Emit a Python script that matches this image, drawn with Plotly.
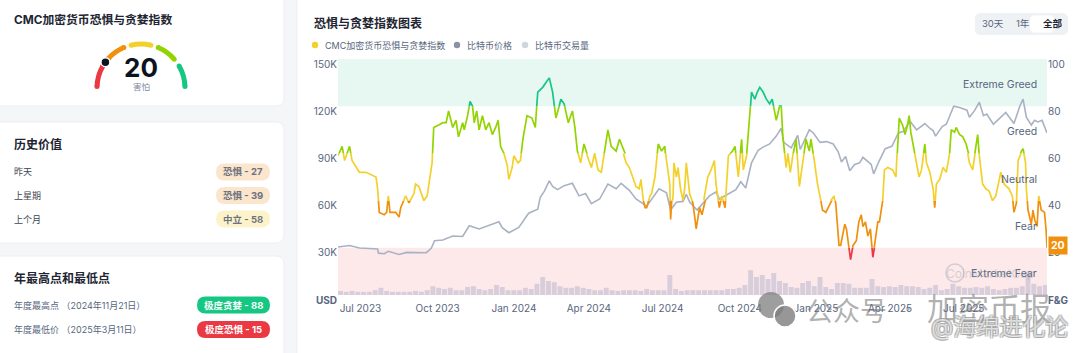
import math
import pandas as pd
import plotly.graph_objects as go

W, H = 1080, 353
FONT = "Inter, 'Noto Sans CJK SC', sans-serif"
DARK = "#222531"
GRAY = "#58667e"

# ---------------- data ----------------
fg_dates = [
    "2023-06-29", "2023-07-04", "2023-07-07", "2023-07-13", "2023-07-16", "2023-07-25",
    "2023-08-02", "2023-08-08", "2023-08-14", "2023-08-16", "2023-08-18", "2023-08-24", "2023-08-27", "2023-08-29", "2023-08-31",
    "2023-09-07", "2023-09-11", "2023-09-13", "2023-09-19", "2023-09-23", "2023-09-29",
    "2023-10-01", "2023-10-05", "2023-10-09", "2023-10-11", "2023-10-15", "2023-10-17", "2023-10-21", "2023-10-23", "2023-10-29",
    "2023-11-03", "2023-11-07", "2023-11-10", "2023-11-15", "2023-11-19", "2023-11-22", "2023-11-27", "2023-11-29",
    "2023-12-03", "2023-12-06", "2023-12-09", "2023-12-11", "2023-12-14", "2023-12-17", "2023-12-21", "2023-12-25", "2023-12-29",
    "2024-01-02", "2024-01-06", "2024-01-09", "2024-01-12", "2024-01-16", "2024-01-20", "2024-01-22", "2024-01-26", "2024-01-28",
    "2024-02-02", "2024-02-05", "2024-02-08", "2024-02-13", "2024-02-19", "2024-02-23", "2024-02-26",
    "2024-03-03", "2024-03-07", "2024-03-11", "2024-03-15", "2024-03-17", "2024-03-19", "2024-03-23", "2024-03-25", "2024-03-29",
    "2024-04-03", "2024-04-08", "2024-04-11", "2024-04-14", "2024-04-18", "2024-04-22", "2024-04-26",
    "2024-05-01", "2024-05-05", "2024-05-09", "2024-05-13", "2024-05-17", "2024-05-21", "2024-05-25", "2024-05-31",
    "2024-06-04", "2024-06-08", "2024-06-12", "2024-06-16", "2024-06-20", "2024-06-24", "2024-06-28", "2024-06-30",
    "2024-07-03", "2024-07-05", "2024-07-07", "2024-07-11", "2024-07-13", "2024-07-17", "2024-07-21", "2024-07-25", "2024-07-29", "2024-07-31",
    "2024-08-04", "2024-08-05", "2024-08-08", "2024-08-09", "2024-08-12", "2024-08-14", "2024-08-17", "2024-08-20", "2024-08-22", "2024-08-24", "2024-08-28",
    "2024-09-01", "2024-09-05", "2024-09-09", "2024-09-12", "2024-09-15", "2024-09-19", "2024-09-23", "2024-09-27", "2024-09-29",
    "2024-10-03", "2024-10-06", "2024-10-10", "2024-10-14", "2024-10-19", "2024-10-22", "2024-10-26", "2024-10-30",
    "2024-11-01", "2024-11-05", "2024-11-08", "2024-11-11", "2024-11-15", "2024-11-18", "2024-11-21", "2024-11-25", "2024-11-29",
    "2024-12-03", "2024-12-06", "2024-12-09", "2024-12-11", "2024-12-15", "2024-12-17", "2024-12-19", "2024-12-21", "2024-12-23", "2024-12-25", "2024-12-28", "2024-12-31",
    "2025-01-04", "2025-01-08", "2025-01-12", "2025-01-16", "2025-01-20", "2025-01-22", "2025-01-26", "2025-01-30",
    "2025-02-03", "2025-02-05", "2025-02-09", "2025-02-15", "2025-02-19", "2025-02-21", "2025-02-23", "2025-02-25", "2025-02-27",
    "2025-03-04", "2025-03-06", "2025-03-11", "2025-03-14", "2025-03-18", "2025-03-21", "2025-03-24", "2025-03-26", "2025-03-29",
    "2025-04-01", "2025-04-04", "2025-04-07", "2025-04-10", "2025-04-13", "2025-04-15", "2025-04-17", "2025-04-19", "2025-04-21", "2025-04-25",
    "2025-05-01", "2025-05-05", "2025-05-07", "2025-05-09", "2025-05-13", "2025-05-16", "2025-05-19", "2025-05-21", "2025-05-23", "2025-05-27", "2025-05-29",
    "2025-06-02", "2025-06-05", "2025-06-09", "2025-06-11", "2025-06-15", "2025-06-19", "2025-06-21", "2025-06-23", "2025-06-27",
    "2025-07-01", "2025-07-05", "2025-07-09", "2025-07-11", "2025-07-15", "2025-07-17", "2025-07-21", "2025-07-25", "2025-07-29",
    "2025-08-02", "2025-08-06", "2025-08-09", "2025-08-12", "2025-08-14", "2025-08-18", "2025-08-22", "2025-08-26", "2025-08-30",
    "2025-09-03", "2025-09-09", "2025-09-13", "2025-09-19", "2025-09-23", "2025-09-25", "2025-09-28", "2025-09-30",
    "2025-10-04", "2025-10-06", "2025-10-09", "2025-10-10", "2025-10-12", "2025-10-16", "2025-10-18", "2025-10-20", "2025-10-23", "2025-10-25", "2025-10-28",
    "2025-11-01", "2025-11-03", "2025-11-04",
]
fg_values = [
    59, 63, 57, 63, 57, 52,
    52, 51, 50, 45, 35, 34, 35, 42, 35,
    35, 33, 37, 42, 39, 43,
    47, 46, 42, 40, 42, 47, 56, 71, 72,
    73, 73, 78, 71, 74, 67, 73, 70,
    76, 82, 80, 73, 78, 70, 76, 70, 73,
    68, 71, 74, 63, 60, 55, 49, 54, 59,
    56, 57, 66, 76, 75, 71, 86,
    88, 90, 92, 86, 81, 75, 80, 83, 81,
    73, 78, 71, 61, 56, 64, 59,
    54, 60, 53, 52, 61, 70, 63, 61,
    66, 61, 56, 54, 50, 46, 45, 49,
    40, 37, 37, 42, 43, 50, 64, 61, 63, 57,
    47, 32, 42, 56, 50, 54, 45, 40, 45, 56, 43,
    39, 28, 37, 34, 42, 50, 53, 57, 47,
    37, 42, 37, 59, 61, 63, 50, 66,
    53, 59, 71, 86, 83, 86, 88, 86, 83,
    81, 83, 78, 74, 80, 80, 67, 61, 54, 60, 52, 59,
    66, 46, 57, 66, 61, 66, 57, 47,
    40, 36, 35, 40, 42, 39, 30, 21, 21,
    30, 28, 15, 21, 23, 31, 34, 29, 31,
    25, 28, 16, 23, 31, 31, 35, 40, 53, 54,
    53, 50, 66, 75, 72, 68, 72, 76, 69, 61, 57,
    50, 53, 64, 56, 52, 45, 37, 47, 49,
    54, 52, 60, 70, 69, 71, 68, 67, 64,
    56, 53, 61, 68, 59, 47, 45, 44, 40,
    42, 52, 47, 45, 42, 35, 39, 57,
    61, 62, 56, 45, 36, 30, 36, 32, 29, 42, 36,
    35, 27, 20,
]

btc_dates = [
    "2023-06-29", "2023-07-13", "2023-07-25", "2023-08-08", "2023-08-16", "2023-08-17", "2023-08-24", "2023-08-29",
    "2023-09-11", "2023-09-20", "2023-09-29", "2023-10-14", "2023-10-20", "2023-10-24", "2023-11-03", "2023-11-15",
    "2023-11-27", "2023-12-05", "2023-12-17", "2024-01-02", "2024-01-10", "2024-01-14", "2024-01-22", "2024-02-03",
    "2024-02-15", "2024-02-26", "2024-02-29", "2024-03-05", "2024-03-11", "2024-03-15", "2024-03-21", "2024-03-29",
    "2024-04-08", "2024-04-16", "2024-04-24", "2024-05-01", "2024-05-11", "2024-05-21", "2024-05-31", "2024-06-06",
    "2024-06-16", "2024-06-24", "2024-07-07", "2024-07-22", "2024-07-31", "2024-08-05", "2024-08-12", "2024-08-20",
    "2024-08-24", "2024-08-28", "2024-09-06", "2024-09-21", "2024-09-29", "2024-10-03", "2024-10-23", "2024-10-29",
    "2024-11-04", "2024-11-11", "2024-11-19", "2024-11-25", "2024-12-03", "2024-12-11", "2024-12-17", "2024-12-20",
    "2024-12-29", "2025-01-06", "2025-01-09", "2025-01-20", "2025-01-25", "2025-02-02", "2025-02-10", "2025-02-18",
    "2025-02-24", "2025-02-28", "2025-03-05", "2025-03-10", "2025-03-16", "2025-03-22", "2025-03-26", "2025-04-05",
    "2025-04-08", "2025-04-14", "2025-04-22", "2025-04-30", "2025-05-08", "2025-05-14", "2025-05-22", "2025-05-30",
    "2025-06-09", "2025-06-15", "2025-06-19", "2025-06-22", "2025-06-30", "2025-07-05", "2025-07-14", "2025-07-22",
    "2025-07-30", "2025-08-02", "2025-08-08", "2025-08-14", "2025-08-19", "2025-08-23", "2025-08-31", "2025-09-05",
    "2025-09-15", "2025-09-25", "2025-10-02", "2025-10-06", "2025-10-10", "2025-10-16", "2025-10-20", "2025-10-24",
    "2025-10-29", "2025-11-04",
]
btc_price_k = [
    30.5, 31.5, 29.9, 29.5, 29.2, 26.6, 26.2, 27.8,
    25.8, 27.1, 27.0, 26.9, 29.7, 34.5, 35.0, 37.5,
    37.2, 44.0, 42.0, 45.0, 46.5, 42.8, 39.6, 43.0,
    52.0, 54.5, 62.0, 66.0, 72.5, 69.0, 67.0, 69.5,
    71.0, 63.0, 64.5, 58.0, 61.0, 70.5, 67.5, 71.0,
    66.5, 61.0, 56.5, 67.5, 65.0, 54.0, 59.0, 59.5,
    64.0, 59.0, 54.0, 63.0, 65.5, 61.0, 67.0, 72.0,
    68.0, 84.0, 92.0, 94.0, 96.0, 101.0, 106.0, 97.0,
    93.5, 101.5, 92.5, 105.0, 103.0, 97.0, 97.5, 96.0,
    91.0, 84.5, 88.0, 79.0, 83.0, 84.0, 87.5, 83.0,
    77.0, 84.5, 93.0, 94.5, 103.0, 104.0, 110.5, 105.0,
    109.0, 106.0, 104.5, 101.0, 107.0, 108.5, 120.0, 119.0,
    117.5, 113.0, 117.0, 122.5, 114.0, 115.0, 108.5, 111.0,
    116.0, 109.0, 120.0, 124.5, 113.0, 108.0, 111.0, 110.0,
    111.0, 103.0,
]

vol_first_week = "2023-07-02"
vol_billion = [
    10, 8, 10, 8, 8, 8, 12, 18, 10, 8, 8, 8, 8, 10, 8, 12, 22, 18, 15, 18, 12, 12,
    20, 22, 15, 12, 15, 25, 20, 12, 12, 12, 18, 15, 28, 45, 35, 32, 22, 18, 18, 22,
    18, 15, 12, 12, 18, 12, 10, 12, 12, 12, 10, 15, 12, 12, 12, 50, 15, 10, 12, 12,
    12, 12, 12, 12, 12, 15, 15, 18, 25, 62, 45, 50, 40, 55, 35, 30, 20, 18, 30, 35,
    22, 45, 20, 15, 30, 30, 28, 18, 18, 18, 40, 22, 20, 22, 20, 25, 22, 22, 20, 15,
    18, 25, 12, 15, 28, 22, 18, 18, 20, 18, 22, 15, 12, 15, 18, 18, 22, 55, 28, 22,
    25,
]

band_edges = [0, 20, 40, 60, 80, 100]
band_colors = ["#ea3943", "#f0900c", "#f3d12c", "#93d400", "#16c784"]
band_names = ["Extreme Fear", "Fear", "Neutral", "Greed", "Extreme Greed"]
band_cn = ["极度恐惧", "恐惧", "中立", "贪婪", "极度贪婪"]

x_tick_dates = ["2023-07-01", "2023-10-01", "2024-01-01", "2024-04-01", "2024-07-01",
                "2024-10-01", "2025-01-01", "2025-04-01", "2025-07-01"]
x_tick_text = ["Jul 2023", "Oct 2023", "Jan 2024", "Apr 2024", "Jul 2024",
               "Oct 2024", "Jan 2025", "Apr 2025", "Jul 2025"]
btc_tick_vals = [0, 30000, 60000, 90000, 120000, 150000]
btc_tick_text = ["<b>USD</b>", "30K", "60K", "90K", "120K", "150K"]
fg_tick_vals = [0, 20, 40, 60, 80, 100]
fg_tick_text = ["<b>F&G</b>", "20", "40", "60", "80", "100"]

fg_now = 20
fg_now_label = "害怕"
hist_labels = ["昨天", "上星期", "上个月"]
hist_values = [27, 39, 58]
year_labels = ["年度最高点 （2024年11月21日）", "年度最低价 （2025年3月11日）"]
year_values = [88, 15]

assert len(fg_dates) == len(fg_values)
assert len(btc_dates) == len(btc_price_k)


def band_of(v):
    return min(int(v // 20), 4)


# ---------------- helpers ----------------
def px(x):
    return x / W


def py(y):
    return 1 - y / H


def P(x, y):
    return f"{px(x):.5f},{py(y):.5f}"


def rrect(x0, y0, x1, y1, r, fill, line=None):
    d = (f"M {P(x0 + r, y0)} L {P(x1 - r, y0)} Q {P(x1, y0)} {P(x1, y0 + r)} "
         f"L {P(x1, y1 - r)} Q {P(x1, y1)} {P(x1 - r, y1)} L {P(x0 + r, y1)} "
         f"Q {P(x0, y1)} {P(x0, y1 - r)} L {P(x0, y0 + r)} Q {P(x0, y0)} {P(x0 + r, y0)} Z")
    return dict(type="path", path=d, xref="paper", yref="paper", fillcolor=fill,
                line=dict(width=1 if line else 0, color=line or "rgba(0,0,0,0)"), layer="below")


def circle(cx, cy, r, fill, lw=0, lc="white", layer="above"):
    return dict(type="circle", xref="paper", yref="paper", x0=px(cx - r), x1=px(cx + r),
                y0=py(cy + r), y1=py(cy - r), fillcolor=fill,
                line=dict(width=lw, color=lc if lw else "rgba(0,0,0,0)"), layer=layer)


def arc(cx, cy, r, a0, a1, color, width):
    t0, t1 = math.radians(a0), math.radians(a1)
    k = 4 / 3 * math.tan((t1 - t0) / 4)
    p0 = (cx + r * math.cos(t0), cy - r * math.sin(t0))
    p3 = (cx + r * math.cos(t1), cy - r * math.sin(t1))
    p1 = (p0[0] - k * r * math.sin(t0), p0[1] - k * r * math.cos(t0))
    p2 = (p3[0] + k * r * math.sin(t1), p3[1] + k * r * math.cos(t1))
    d = f"M {P(*p0)} C {P(*p1)} {P(*p2)} {P(*p3)}"
    return [dict(type="path", path=d, xref="paper", yref="paper", line=dict(color=color, width=width)),
            circle(p0[0], p0[1], width / 2, color), circle(p3[0], p3[1], width / 2, color)]


annotations = []


def T(x, y, text, size=11, color=GRAY, bold=False, xa="left", ya="middle", **kw):
    annotations.append(dict(x=px(x), y=py(y), xref="paper", yref="paper",
                            text=f"<b>{text}</b>" if bold else text, showarrow=False,
                            xanchor=xa, yanchor=ya, borderpad=0,
                            font=dict(size=size, color=color, family=FONT, **kw)))


shapes = []
# ---------------- cards ----------------
shapes.append(rrect(-10, -10, 284, 106, 8, "white", "#eceff3"))
shapes.append(rrect(-10, 122, 284, 243, 8, "white", "#eceff3"))
shapes.append(rrect(-10, 256, 284, 372, 8, "white", "#eceff3"))
shapes.append(rrect(297, -10, 1092, 372, 8, "white", "#eceff3"))

# ---------------- gauge ----------------
GX, GY, GR = 141, 88, 44
gauge_spans = [(150, 178), (113, 138), (77, 103), (41, 67), (2, 30)]
for (a0, a1), col in zip(gauge_spans, band_colors):
    shapes += arc(GX, GY, GR, a0, a1, col, 5)
ang = math.radians(180 - fg_now * 1.8)
shapes.append(circle(GX + GR * math.cos(ang), GY - GR * math.sin(ang), 4.5, "#0d1421", 1.5, "white"))

T(13, 20, "CMC加密货币恐惧与贪婪指数", 11.8, DARK, True)
T(141, 67, str(fg_now), 26, "#0d1421", True, "center")
T(141.5, 87, fg_now_label, 8.5, "#808a9d", False, "center")

# ---------------- history card ----------------
T(13, 144, "历史价值", 12, DARK, True)
pill_bg = {1: "#fbe6cd", 2: "#fdf3cb"}
for i, (lab, v) in enumerate(zip(hist_labels, hist_values)):
    yc = 172 + i * 23.5
    T(13, yc, lab, 9, "#3d4350")
    shapes.append(rrect(216, yc - 8.5, 270, yc + 8.5, 8.5, pill_bg.get(band_of(v), "#eee")))
    T(243, yc, f"{band_cn[band_of(v)]} - {v}", 9.5, "#6d7280", True, "center")

# ---------------- year card ----------------
T(13, 278, "年最高点和最低点", 12, DARK, True)
for i, (lab, v) in enumerate(zip(year_labels, year_values)):
    yc = 305 + i * 24.5
    T(13, yc, lab, 9, GRAY)
    shapes.append(rrect(197, yc - 8.5, 270, yc + 8.5, 8.5, band_colors[band_of(v)]))
    T(233.5, yc, f"{band_cn[band_of(v)]} - {v}", 9.5, "white", True, "center")

# ---------------- chart header ----------------
T(313, 24, "恐惧与贪婪指数图表", 12, DARK, True)
legend_items = [("CMC加密货币恐惧与贪婪指数", "#f3d12c", 315), ("比特币价格", "#8a93a6", 457),
                ("比特币交易量", "#cfd6e0", 525)]
for text, col, lx in legend_items:
    shapes.append(circle(lx, 45, 3.2, col))
    T(lx + 9, 45, text, 9, GRAY)
shapes.append(rrect(975, 13, 1068, 35, 6, "#eff2f5"))
shapes.append(rrect(1030, 15.5, 1054, 32.5, 5, "white"))
T(993, 24, "30天", 9.5, GRAY, False, "center")
T(1022.5, 24, "1年", 9.5, GRAY, False, "center")
T(1053, 24, "全部", 9.5, DARK, True, "center")

# ---------------- chart ----------------
PX0, PX1, PY0, PY1 = 338, 1047, 59, 295
xdom = [px(PX0), px(PX1)]
ydom = [py(PY1), py(PY0)]

fig = go.Figure()
fig.add_trace(go.Bar(x=pd.date_range(vol_first_week, periods=len(vol_billion), freq="7D"),
                     y=vol_billion, yaxis="y3", marker=dict(color="#d8cdda", line=dict(width=0)),
                     hoverinfo="skip"))
fig.add_trace(go.Scatter(x=pd.to_datetime(btc_dates), y=[v * 1000 for v in btc_price_k],
                         mode="lines", line=dict(color="#a9b2c3", width=1.6), yaxis="y",
                         hoverinfo="skip"))
fg_x = pd.to_datetime(fg_dates)
for k in range(5):
    fig.add_trace(go.Scatter(x=fg_x, y=fg_values, mode="lines", yaxis=f"y{5 + k}",
                             line=dict(color=band_colors[k], width=1.7), hoverinfo="skip"))

# zone bands
shapes.append(dict(type="rect", xref="x domain", yref="y2", x0=0, x1=1, y0=80, y1=100,
                   fillcolor="#e7f7f1", line=dict(width=0), layer="below"))
shapes.append(dict(type="rect", xref="x domain", yref="y2", x0=0, x1=1, y0=0, y1=20,
                   fillcolor="#fde9ea", line=dict(width=0), layer="below"))

for k in range(5):
    annotations.append(dict(x=px(1039), y=(band_edges[k] + band_edges[k + 1]) / 2, xref="paper",
                            yref="y2", text=band_names[k], showarrow=False, xanchor="right",
                            yshift=-2, font=dict(size=10.5, color=GRAY, family=FONT)))
annotations.append(dict(x=px(1048), y=fg_values[-1], xref="paper", yref="y2",
                        text=f"<b>{fg_values[-1]}</b>", showarrow=False, xanchor="left",
                        yshift=2, bgcolor=band_colors[band_of(fg_values[-1])], borderpad=2,
                        font=dict(size=10.5, color="white", family=FONT)))

# watermarks
T(990, 273, "CoinMarketCap", 12, "rgba(140,150,165,0.35)", False, "center")
shapes.append(circle(955, 273, 9, "rgba(0,0,0,0)", 1.5, "rgba(140,150,165,0.35)"))
shapes.append(circle(771, 305, 13, "rgba(125,125,125,0.75)"))
shapes.append(circle(785, 316, 11, "rgba(125,125,125,0.8)", 1.5, "white"))
T(805, 311, "公众号", 27, "rgba(110,110,110,0.55)")
T(908, 308, "·", 27, "rgba(110,110,110,0.55)", False, "center")
T(926, 308, "加密币报", 31, "rgba(110,110,110,0.55)")
T(930, 327, "@海绵进化论", 23, "rgba(255,255,255,0.6)", False, "left", "middle",
  shadow="1px 1px 0 #9a9a9a, -1px -1px 0 #9a9a9a, 1px -1px 0 #9a9a9a, -1px 1px 0 #9a9a9a")

tickfont = dict(size=10, color=GRAY, family=FONT)
layout_axes = dict(
    xaxis=dict(domain=xdom, anchor="y", type="date", range=["2023-06-29", "2025-11-04"],
               tickvals=x_tick_dates, ticktext=x_tick_text, ticklabelposition="outside right",
               ticklabelstandoff=6, automargin=False,
               showgrid=False, zeroline=False, showline=False, ticks="", tickfont=tickfont),
    yaxis=dict(domain=ydom, anchor="x", range=[0, 150000], tickvals=btc_tick_vals,
               ticktext=btc_tick_text, showgrid=False, zeroline=False, ticks="",
               ticklabelshift=5, automargin=False, tickfont=tickfont),
    yaxis2=dict(overlaying="y", side="right", anchor="x", range=[0, 100], tickvals=fg_tick_vals,
                ticktext=fg_tick_text, showgrid=False, zeroline=False, ticks="",
                ticklabelshift=5, automargin=False, tickfont=tickfont),
    yaxis3=dict(overlaying="y", range=[0, 590], visible=False),
    yaxis4=dict(overlaying="y", range=[0, 100], tickvals=[20, 40, 60, 80, 100], showgrid=True,
                gridcolor="#cdd3de", griddash="dot", gridwidth=1, showticklabels=False,
                zeroline=False, ticks=""),
)
for k in range(5):
    lo, hi = band_edges[k], band_edges[k + 1]
    d0 = ydom[0] + (ydom[1] - ydom[0]) * lo / 100
    d1 = ydom[0] + (ydom[1] - ydom[0]) * hi / 100
    layout_axes[f"yaxis{5 + k}"] = dict(domain=[d0, d1], range=[lo, hi], anchor="x", visible=False)

fig.update_layout(
    width=W, height=H, margin=dict(l=0, r=0, t=0, b=0, pad=0, autoexpand=False),
    paper_bgcolor="#f5f6f8", plot_bgcolor="rgba(0,0,0,0)",
    showlegend=False, bargap=0.15, shapes=shapes, annotations=annotations,
    font=dict(family=FONT), **layout_axes,
)
fig.write_html("out.html", config={"displayModeBar": False})
